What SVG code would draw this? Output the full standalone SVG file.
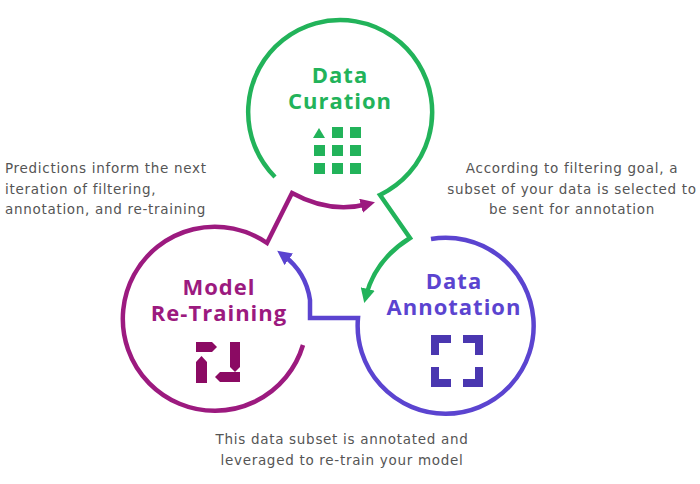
<svg xmlns="http://www.w3.org/2000/svg" width="700" height="484" viewBox="0 0 700 484">
<style>
.t{font-family:"Open Sans","Liberation Sans",sans-serif;font-weight:700;font-size:22px;letter-spacing:1px;text-anchor:middle}
.d{font-family:"DejaVu Sans","Liberation Sans",sans-serif;font-size:13.5px;letter-spacing:0.7px;fill:#555}
.c{fill:none;stroke-width:4.5;stroke-linejoin:miter;stroke-linecap:butt}
</style>
<defs>
<marker id="ag" viewBox="0 0 10 10" refX="5" refY="5" markerWidth="3.2" markerHeight="3.2" orient="auto"><path d="M0,0L10,5L0,10z" fill="#22b35a"/></marker>
<marker id="am" viewBox="0 0 10 10" refX="5" refY="5" markerWidth="3.2" markerHeight="3.2" orient="auto"><path d="M0,0L10,5L0,10z" fill="#9c1a7f"/></marker>
<marker id="ab" viewBox="0 0 10 10" refX="5" refY="5" markerWidth="3.2" markerHeight="3.2" orient="auto"><path d="M0,0L10,5L0,10z" fill="#5b44d0"/></marker>
</defs>
<rect width="700" height="484" fill="#fff"/>
<g id="connectors">
<path class="c" stroke="#22b35a" d="M275,177 A92,92 0 1 1 380,195 L410,238 Q375,260 366,296" marker-end="url(#ag)"/>
<path class="c" stroke="#9c1a7f" d="M303,345 A92,92 0 1 1 267,243 L292,193 Q330,214 368,204" marker-end="url(#am)"/>
<path class="c" stroke="#5b44d0" d="M431,239 A88,88 0 1 1 358,318 L310,318 L310,300 Q306,272 283,255" marker-end="url(#ab)"/>
</g>
<g id="curation">
<text class="t" fill="#22b35a" x="340" y="83">Data</text>
<text class="t" fill="#22b35a" x="340" y="109">Curation</text>
<g fill="#22b35a">
<path d="M313,138L319,128L325,138z"/>
<rect x="332" y="127" width="11" height="11"/><rect x="350" y="127" width="11" height="11"/>
<rect x="314" y="145" width="11" height="11"/><rect x="332" y="145" width="11" height="11"/><rect x="350" y="145" width="11" height="11"/>
<rect x="314" y="163" width="11" height="11"/><rect x="332" y="163" width="11" height="11"/><rect x="350" y="163" width="11" height="11"/>
</g>
</g>
<g id="annotation">
<text class="t" fill="#5b44d0" x="454" y="289">Data</text>
<text class="t" fill="#5b44d0" x="454" y="315">Annotation</text>
<g fill="#4a37b0">
<path d="M431,335H451V343H439V355H431z"/>
<path d="M483,335H463V343H475V355H483z"/>
<path d="M431,387H451V379H439V367H431z"/>
<path d="M483,387H463V379H475V367H483z"/>
</g>
</g>
<g id="retraining">
<text class="t" fill="#9c1a7f" x="219" y="295">Model</text>
<text class="t" fill="#9c1a7f" x="219" y="321">Re-Training</text>
<g fill="#8b0a63">
<path d="M196,342H212L217,347L212,352H196z"/>
<path d="M230,342H240V367L235,372L230,367z"/>
<path d="M240,372V382H220L215,377L220,372z"/>
<path d="M196,383H207V362L201.5,356L196,362z"/>
</g>
</g>
<g id="notes">
<text class="d" x="5" y="173">Predictions inform the next</text>
<text class="d" x="5" y="194">iteration of filtering,</text>
<text class="d" x="5" y="214">annotation, and re-training</text>
<text class="d" x="572" y="173" text-anchor="middle">According to filtering goal, a</text>
<text class="d" x="572" y="194" text-anchor="middle">subset of your data is selected to</text>
<text class="d" x="572" y="214" text-anchor="middle">be sent for annotation</text>
<text class="d" x="342" y="444" text-anchor="middle">This data subset is annotated and</text>
<text class="d" x="342" y="465" text-anchor="middle">leveraged to re-train your model</text>
</g>
</svg>
